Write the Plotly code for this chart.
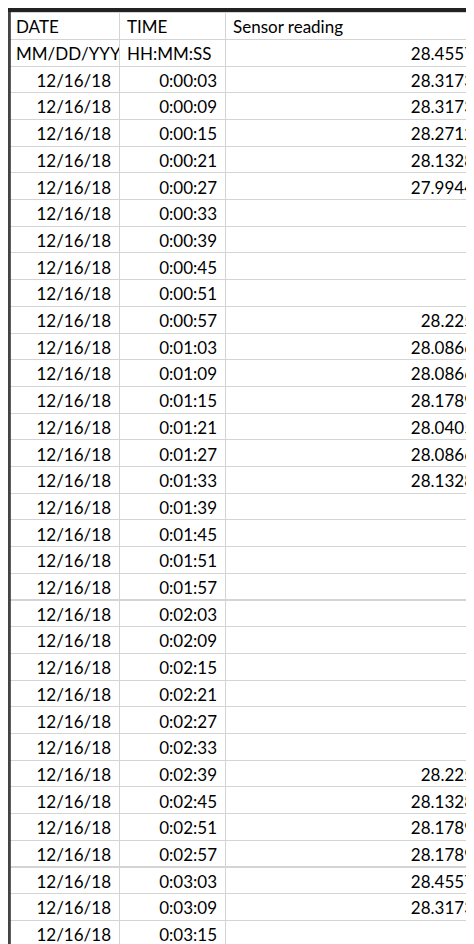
import plotly.graph_objects as go

header = ["DATE", "TIME", "Sensor reading"]
units = ["MM/DD/YYY", "HH:MM:SS", "28.4557"]
dates = ["12/16/18"] * 34
times = ["0:00:03","0:00:09","0:00:15","0:00:21","0:00:27","0:00:33","0:00:39","0:00:45",
         "0:00:51","0:00:57","0:01:03","0:01:09","0:01:15","0:01:21","0:01:27","0:01:33",
         "0:01:39","0:01:45","0:01:51","0:01:57","0:02:03","0:02:09","0:02:15","0:02:21",
         "0:02:27","0:02:33","0:02:39","0:02:45","0:02:51","0:02:57","0:03:03","0:03:09",
         "0:03:15","0:03:21"]
readings = ["28.3173","28.3173","28.2712","28.1328","27.9944","","","","","28.225",
            "28.0866","28.0866","28.1789","28.0405","28.0866","28.1328","","","","",
            "","","","","","","28.225","28.1328","28.1789","28.1789","28.4557","28.3173","",""]

font = dict(family="Lato", size=17, color="black")
widths = [111, 106, 257]
H = 940.0
split = 1 - 54 / H

top = go.Table(
    columnwidth=widths, domain=dict(x=[0, 1], y=[split, 1]),
    header=dict(values=header, align="left", height=27, fill_color="white",
                line_color="#d4d4d4", line_width=1, font=font),
    cells=dict(values=[[u] for u in units], align=["left", "left", "right"], height=27,
               fill_color="white", line_color="#d4d4d4", line_width=1, font=font),
)
body = go.Table(
    columnwidth=widths, domain=dict(x=[0, 1], y=[0, split]),
    header=dict(values=[dates[0], times[0], readings[0]], align="right", height=26.7,
                fill_color="white", line_color="#d4d4d4", line_width=1, font=font),
    cells=dict(values=[dates[1:], times[1:], readings[1:]], align="right", height=26.7,
               fill_color="white", line_color="#d4d4d4", line_width=1, font=font),
)
fig = go.Figure([top, body])
fig.update_layout(width=474, height=944, margin=dict(l=0, r=0, t=4, b=0),
                  paper_bgcolor="white",
                  shapes=[dict(type="rect", xref="paper", yref="paper", x0=0, x1=1,
                               y0=1, y1=1.01, fillcolor="#222", line_width=0, layer="above"),
                          dict(type="rect", xref="paper", yref="paper", x0=0, x1=0.006,
                               y0=0, y1=1, fillcolor="#444", line_width=0, layer="above")])
fig.write_html("out.html")
